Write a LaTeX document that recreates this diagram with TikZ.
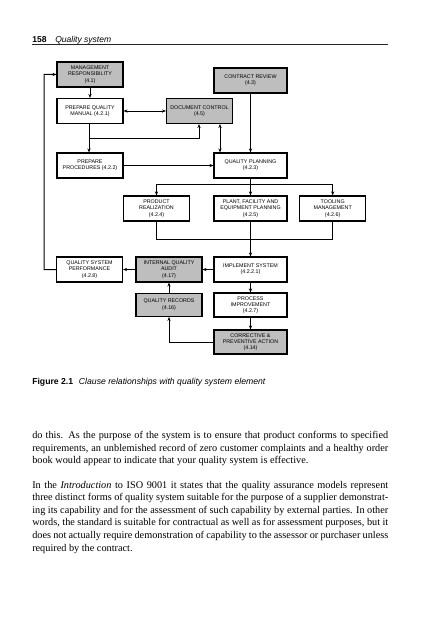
\documentclass[tikz,border=0pt]{standalone}
\usepackage{fontspec}
\setmainfont{Liberation Serif}
\setsansfont{Liberation Sans}
\usetikzlibrary{arrows.meta}
\definecolor{boxgray}{RGB}{190,190,190}
\tikzset{
  box/.style={draw=black, line width=0.8pt, fill=white, align=center, inner sep=0pt,
    font=\sffamily\fontsize{4}{4.65}\selectfont, minimum height=18.75pt},
  gbox/.style={box, fill=boxgray},
  nw/.style={minimum width=49.5pt},
  ww/.style={minimum width=54.75pt},
  conn/.style={line width=0.75pt, black},
  arr/.style={conn, -{Stealth[length=3pt,width=2.4pt]}},
  darr/.style={conn, {Stealth[length=3pt,width=2.4pt]}-{Stealth[length=3pt,width=2.4pt]}},
  bodytext/.style={anchor=north west, inner sep=0pt, text width=267pt, align=justify,
    font=\rmfamily\fontsize{7.7}{9.4}\selectfont}
}
\begin{document}
\begin{tikzpicture}[x=0.75pt,y=-0.75pt]
\fill[white] (0,0) rectangle (426,640);
\useasboundingbox (0,0) rectangle (426,640);

% header
\node[anchor=base west, inner sep=0pt, font=\sffamily\bfseries\fontsize{6.4}{7}\selectfont] (pg) at (32,42) {158};
\node[anchor=base west, inner sep=0pt, font=\sffamily\itshape\fontsize{6.4}{7}\selectfont] (ttl) at (55,42) {Quality system};
\draw[line width=0.8pt, black!85] (32,44.5) -- (388,44.5);

% boxes
\node[gbox,nw] (mr) at (90,74.5) {MANAGEMENT\\RESPONSIBILITY\\(4.1)};
\node[box,nw] (pqm) at (90,111) {PREPARE QUALITY\\MANUAL (4.2.1)};
\node[gbox,nw] (dc) at (199.5,111) {DOCUMENT CONTROL\\(4.5)};
\node[box,nw] (pp) at (90,165.5) {PREPARE\\PROCEDURES (4.2.2)};
\node[gbox,ww] (cr) at (250.5,80.5) {CONTRACT REVIEW\\(4.3)};
\node[box,ww] (qp) at (250.5,165.5) {QUALITY PLANNING\\(4.2.3)};
\node[box,nw] (pr) at (156.5,208.5) {PRODUCT\\REALIZATION\\(4.2.4)};
\node[box,ww] (pl) at (250.5,208.5) {PLANT, FACILITY AND\\EQUIPMENT PLANNING\\(4.2.5)};
\node[box,nw] (tm) at (332.7,208.5) {TOOLING\\MANAGEMENT\\(4.2.6)};
\node[box,nw] (qsp) at (89.5,269.5) {QUALITY SYSTEM\\PERFORMANCE\\(4.2.8)};
\node[gbox,nw] (iqa) at (169,269.5) {INTERNAL QUALITY\\AUDIT\\(4.17)};
\node[box,ww] (is) at (250.5,269.5) {IMPLEMENT SYSTEM\\(4.2.2.1)};
\node[gbox,nw,minimum height=17.5pt] (qr) at (169,304.7) {QUALITY RECORDS\\(4.16)};
\node[box,ww,minimum height=18pt] (pi) at (250.5,305) {PROCESS\\IMPROVEMENT\\(4.2.7)};
\node[gbox,ww,minimum height=18pt] (cpa) at (250.5,342) {CORRECTIVE \&\\PREVENTIVE ACTION\\(4.14)};

% junction coordinates
\coordinate (j1) at (89,138.3);
\coordinate (j2) at (199,138.3);
\coordinate (j3) at (250.5,184);
\coordinate (j4) at (156.5,184);
\coordinate (j5) at (332.7,184);
\coordinate (j6) at (156.5,239.3);
\coordinate (j7) at (332.7,239.3);
\coordinate (j8) at (44,269.5);
\coordinate (j9) at (44,74.3);
\coordinate (j10) at (169,342);

% connectors
\draw[arr] (qsp.west) -- (j8) -- (j9) -- (mr.west);
\draw[arr] (mr.south) -- (pqm.north);
\draw[darr] (pqm.east) -- (dc.west);
\draw[arr] (pqm.south -| j1) -- (pp.north -| j1);
\draw[arr] (j1) -- (j2) -- (dc.south -| j2);
\draw[darr] (dc.south -| 220,0) -- (qp.north -| 220,0);
\draw[arr] (pp.east) -- (pp.east -| qp.west);
\draw[arr] (cr.south) -- (qp.north);
\draw[conn] (qp.south) -- (j3);
\draw[conn] (j4) -- (j5);
\draw[arr] (j4) -- (pr.north);
\draw[arr] (j3) -- (pl.north);
\draw[arr] (j5) -- (tm.north);
\draw[conn] (pr.south) -- (j6) -- (j7) -- (tm.south);
\draw[arr] (pl.south) -- (is.north);
\draw[arr] (is.west) -- (iqa.east);
\draw[arr] (iqa.west) -- (qsp.east);
\draw[arr] (qr.north) -- (iqa.south);
\draw[arr] (is.south) -- (pi.north);
\draw[arr] (pi.south) -- (cpa.north);
\draw[arr] (cpa.west) -- (j10) -- (qr.south);

% caption
\node[anchor=base west, inner sep=0pt, font=\sffamily\bfseries\fontsize{6.5}{7}\selectfont] (fig) at (32,384) {Figure 2.1};
\node[anchor=base west, inner sep=0pt, font=\sffamily\itshape\fontsize{6.5}{7}\selectfont] (cap) at (78.7,384) {Clause relationships with quality system element};

% body text
\node[bodytext] (p1) at (32,431) {do this. As the purpose of the system is to ensure that product conforms to specified\linebreak
requirements, an unblemished record of zero customer complaints and a healthy order\linebreak
book would appear to indicate that your quality system is effective.};
\node[bodytext] (p2) at (32,481) {In the \textit{Introduction} to ISO 9001 it states that the quality assurance models represent\linebreak
three distinct forms of quality system suitable for the purpose of a supplier demonstrat-\linebreak
ing its capability and for the assessment of such capability by external parties. In other\linebreak
words, the standard is suitable for contractual as well as for assessment purposes, but it\linebreak
does not actually require demonstration of capability to the assessor or purchaser unless\linebreak
required by the contract.};
\end{tikzpicture}
\end{document}
